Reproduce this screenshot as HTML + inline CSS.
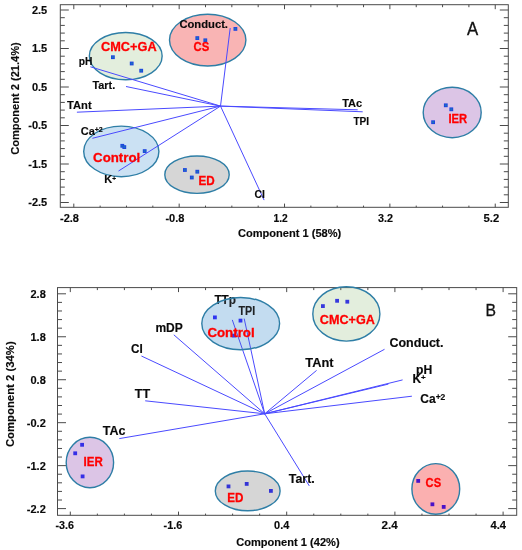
<!DOCTYPE html>
<html><head><meta charset="utf-8"><title>PCA biplots</title>
<style>
html,body{margin:0;padding:0;background:#fff;}
svg{display:block}
text{font-family:"Liberation Sans",Arial,sans-serif;}
.b{font-weight:bold;fill:#0a0a0a;stroke:#0a0a0a;stroke-width:0.15px}
.r{font-weight:bold;fill:#ff0000;stroke:#ff0000;stroke-width:0.3px}
.n{font-weight:normal;fill:#111;stroke:#111;stroke-width:0.3px}
</style></head><body>
<svg width="522" height="550" viewBox="0 0 522 550">
<defs><filter id="soft" x="0" y="0" width="100%" height="100%" filterUnits="userSpaceOnUse" color-interpolation-filters="sRGB"><feGaussianBlur stdDeviation="0.45"/></filter></defs>
<g filter="url(#soft)">
<rect width="522" height="550" fill="#fff"/>
<ellipse cx="125.75" cy="56.1" rx="36.4" ry="23.6" fill="#e3eedd" stroke="#2e7ea6" stroke-width="1.4"/>
<ellipse cx="207.7" cy="40.1" rx="38.2" ry="25.9" fill="#f9b4b4" stroke="#2e7ea6" stroke-width="1.4"/>
<ellipse cx="121.3" cy="151.4" rx="37.6" ry="25.3" fill="#cbe1f3" stroke="#2e7ea6" stroke-width="1.4"/>
<ellipse cx="197" cy="174.7" rx="32.2" ry="18.7" fill="#d6d6d6" stroke="#2e7ea6" stroke-width="1.4"/>
<ellipse cx="452.2" cy="112.5" rx="29" ry="25.2" fill="#dcc5e6" stroke="#2e7ea6" stroke-width="1.4"/>
<path d="M220.5 106.1L90.4 66.8M220.5 106.1L126 86.5M220.5 106.1L76.9 112.2M220.5 106.1L92.4 138.3M220.5 106.1L118.5 171M220.5 106.1L264.1 200.1M220.5 106.1L230.2 28.1M220.5 106.1L357.7 109.8M220.5 106.1L362.7 111.8" stroke="#4a4aff" stroke-width="1" fill="none"/>
<rect x="60.3" y="4.7" width="448.0" height="202.60000000000002" fill="none" stroke="#4a4a4a" stroke-width="1"/>
<path d="M73.80 4.7v4.5M73.80 207.3v-3.7M100.14 4.7v2.5M100.14 207.3v-1.7000000000000002M126.48 4.7v2.5M126.48 207.3v-1.7000000000000002M152.82 4.7v2.5M152.82 207.3v-1.7000000000000002M179.16 4.7v4.5M179.16 207.3v-3.7M205.50 4.7v2.5M205.50 207.3v-1.7000000000000002M231.84 4.7v2.5M231.84 207.3v-1.7000000000000002M258.18 4.7v2.5M258.18 207.3v-1.7000000000000002M284.52 4.7v4.5M284.52 207.3v-3.7M310.86 4.7v2.5M310.86 207.3v-1.7000000000000002M337.20 4.7v2.5M337.20 207.3v-1.7000000000000002M363.54 4.7v2.5M363.54 207.3v-1.7000000000000002M389.88 4.7v4.5M389.88 207.3v-3.7M416.22 4.7v2.5M416.22 207.3v-1.7000000000000002M442.56 4.7v2.5M442.56 207.3v-1.7000000000000002M468.90 4.7v2.5M468.90 207.3v-1.7000000000000002M495.24 4.7v4.5M495.24 207.3v-3.7M60.3 10.00h8.5M508.3 10.00h-8.5M60.3 17.70h4.5M508.3 17.70h-4.5M60.3 25.40h4.5M508.3 25.40h-4.5M60.3 33.10h4.5M508.3 33.10h-4.5M60.3 40.80h4.5M508.3 40.80h-4.5M60.3 48.50h8.5M508.3 48.50h-8.5M60.3 56.20h4.5M508.3 56.20h-4.5M60.3 63.90h4.5M508.3 63.90h-4.5M60.3 71.60h4.5M508.3 71.60h-4.5M60.3 79.30h4.5M508.3 79.30h-4.5M60.3 87.00h8.5M508.3 87.00h-8.5M60.3 94.70h4.5M508.3 94.70h-4.5M60.3 102.40h4.5M508.3 102.40h-4.5M60.3 110.10h4.5M508.3 110.10h-4.5M60.3 117.80h4.5M508.3 117.80h-4.5M60.3 125.50h8.5M508.3 125.50h-8.5M60.3 133.20h4.5M508.3 133.20h-4.5M60.3 140.90h4.5M508.3 140.90h-4.5M60.3 148.60h4.5M508.3 148.60h-4.5M60.3 156.30h4.5M508.3 156.30h-4.5M60.3 164.00h8.5M508.3 164.00h-8.5M60.3 171.70h4.5M508.3 171.70h-4.5M60.3 179.40h4.5M508.3 179.40h-4.5M60.3 187.10h4.5M508.3 187.10h-4.5M60.3 194.80h4.5M508.3 194.80h-4.5M60.3 202.50h8.5M508.3 202.50h-8.5" stroke="#4a4a4a" stroke-width="1" fill="none"/>
<rect x="111.0" y="55.3" width="3.8" height="3.8" fill="#1f45e0"/>
<rect x="112.0" y="56.3" width="1.8" height="1.8" fill="#1a78b8"/>
<rect x="129.8" y="61.6" width="3.8" height="3.8" fill="#1f45e0"/>
<rect x="130.8" y="62.6" width="1.8" height="1.8" fill="#1a78b8"/>
<rect x="139.3" y="68.8" width="3.8" height="3.8" fill="#1f45e0"/>
<rect x="140.3" y="69.8" width="1.8" height="1.8" fill="#1a78b8"/>
<rect x="195.4" y="36.2" width="3.8" height="3.8" fill="#1f45e0"/>
<rect x="196.4" y="37.2" width="1.8" height="1.8" fill="#1a78b8"/>
<rect x="203.4" y="38.4" width="3.8" height="3.8" fill="#1f45e0"/>
<rect x="204.4" y="39.4" width="1.8" height="1.8" fill="#1a78b8"/>
<rect x="233.5" y="27.0" width="3.8" height="3.8" fill="#1f45e0"/>
<rect x="234.5" y="28.0" width="1.8" height="1.8" fill="#1a78b8"/>
<rect x="120.4" y="143.9" width="3.8" height="3.8" fill="#1f45e0"/>
<rect x="121.4" y="144.9" width="1.8" height="1.8" fill="#1a78b8"/>
<rect x="122.4" y="145.2" width="3.8" height="3.8" fill="#1f45e0"/>
<rect x="123.4" y="146.2" width="1.8" height="1.8" fill="#1a78b8"/>
<rect x="142.8" y="149.2" width="3.8" height="3.8" fill="#1f45e0"/>
<rect x="143.8" y="150.2" width="1.8" height="1.8" fill="#1a78b8"/>
<rect x="183.0" y="168.1" width="3.8" height="3.8" fill="#1f45e0"/>
<rect x="184.0" y="169.1" width="1.8" height="1.8" fill="#1a78b8"/>
<rect x="195.4" y="169.8" width="3.8" height="3.8" fill="#1f45e0"/>
<rect x="196.4" y="170.8" width="1.8" height="1.8" fill="#1a78b8"/>
<rect x="189.9" y="175.6" width="3.8" height="3.8" fill="#1f45e0"/>
<rect x="190.9" y="176.6" width="1.8" height="1.8" fill="#1a78b8"/>
<rect x="443.9" y="103.4" width="3.8" height="3.8" fill="#1f45e0"/>
<rect x="444.9" y="104.4" width="1.8" height="1.8" fill="#1a78b8"/>
<rect x="449.4" y="107.4" width="3.8" height="3.8" fill="#1f45e0"/>
<rect x="450.4" y="108.4" width="1.8" height="1.8" fill="#1a78b8"/>
<rect x="431.2" y="120.3" width="3.8" height="3.8" fill="#1f45e0"/>
<rect x="432.2" y="121.3" width="1.8" height="1.8" fill="#1a78b8"/>
<text class="r" x="101.0" y="51.1" font-size="13.1" textLength="55.6" lengthAdjust="spacingAndGlyphs">CMC+GA</text>
<text class="r" x="193.6" y="51.1" font-size="13.1" textLength="15.7" lengthAdjust="spacingAndGlyphs">CS</text>
<text class="r" x="93.1" y="162.3" font-size="13.1" textLength="47.1" lengthAdjust="spacingAndGlyphs">Control</text>
<text class="r" x="198.6" y="184.7" font-size="13.1" textLength="16.2" lengthAdjust="spacingAndGlyphs">ED</text>
<text class="r" x="448.5" y="122.7" font-size="13.1" textLength="18.7" lengthAdjust="spacingAndGlyphs">IER</text>
<text class="b" x="78.7" y="64.8" font-size="11" textLength="13.7" lengthAdjust="spacingAndGlyphs">pH</text>
<text class="b" x="92.4" y="88.5" font-size="11" textLength="22.9" lengthAdjust="spacingAndGlyphs">Tart.</text>
<text class="b" x="67.0" y="109.2" font-size="11" textLength="24.6" lengthAdjust="spacingAndGlyphs">TAnt</text>
<text class="b" x="80.7" y="135" font-size="11">Ca<tspan font-size="7" dy="-3">+2</tspan></text>
<text class="b" x="104.3" y="182.7" font-size="11">K<tspan font-size="6.5" dy="-2">+</tspan></text>
<text class="b" x="254.6" y="197.6" font-size="11" textLength="10.4" lengthAdjust="spacingAndGlyphs">CI</text>
<text class="b" x="179.4" y="28.1" font-size="11" textLength="48.6" lengthAdjust="spacingAndGlyphs">Conduct.</text>
<text class="b" x="342.2" y="106.8" font-size="11" textLength="20.0" lengthAdjust="spacingAndGlyphs">TAc</text>
<text class="b" x="353.4" y="124.7" font-size="11" textLength="15.7" lengthAdjust="spacingAndGlyphs">TPI</text>
<text class="b" x="60.0" y="221.8" font-size="11" textLength="19.0" lengthAdjust="spacingAndGlyphs">-2.8</text>
<text class="b" x="165.4" y="221.8" font-size="11" textLength="19.0" lengthAdjust="spacingAndGlyphs">-0.8</text>
<text class="b" x="273.6" y="221.8" font-size="11" textLength="14.2" lengthAdjust="spacingAndGlyphs">1.2</text>
<text class="b" x="378.1" y="221.8" font-size="11" textLength="15.0" lengthAdjust="spacingAndGlyphs">3.2</text>
<text class="b" x="483.5" y="221.8" font-size="11" textLength="15.7" lengthAdjust="spacingAndGlyphs">5.2</text>
<text class="b" x="47.2" y="13.9" font-size="11" text-anchor="end">2.5</text>
<text class="b" x="47.2" y="52.4" font-size="11" text-anchor="end">1.5</text>
<text class="b" x="47.2" y="90.9" font-size="11" text-anchor="end">0.5</text>
<text class="b" x="47.2" y="129.4" font-size="11" text-anchor="end">-0.5</text>
<text class="b" x="47.2" y="167.9" font-size="11" text-anchor="end">-1.5</text>
<text class="b" x="47.2" y="206.4" font-size="11" text-anchor="end">-2.5</text>
<text class="b" x="238.0" y="236.6" font-size="11" textLength="103.3" lengthAdjust="spacingAndGlyphs">Component 1 (58%)</text>
<text class="b" font-size="11" transform="translate(18.5,154.7) rotate(-90)" textLength="112.4" lengthAdjust="spacingAndGlyphs">Component 2 (21.4%)</text>
<text class="n" x="466.9" y="34.5" font-size="17.6" textLength="11.2" lengthAdjust="spacingAndGlyphs">A</text>
<text class="b" x="214.4" y="304.4" font-size="12" textLength="21.6" lengthAdjust="spacingAndGlyphs">TTp</text>
<text class="b" x="238.5" y="314.9" font-size="12" textLength="16.7" lengthAdjust="spacingAndGlyphs">TPI</text>
<path d="M264.7 413.8L173.8 334.8M264.7 413.8L141.4 356M264.7 413.8L145.2 400.8M264.7 413.8L119.3 438.6M264.7 413.8L232.3 319.9M264.7 413.8L244.2 318.6M264.7 413.8L316.6 370.4M264.7 413.8L384.5 349.3M264.7 413.8L402.6 379.9M264.7 413.8L388.4 384.1M264.7 413.8L411.9 396.2M264.7 413.8L309.3 485.9" stroke="#4a4aff" stroke-width="1" fill="none"/>
<rect x="213.0" y="315.5" width="3.8" height="3.8" fill="#2222ff"/>
<rect x="238.6" y="318.7" width="3.8" height="3.8" fill="#2222ff"/>
<rect x="232.1" y="333.7" width="3.8" height="3.8" fill="#2222ff"/>
<rect x="80.2" y="442.9" width="3.8" height="3.8" fill="#2222ff"/>
<rect x="73.3" y="451.4" width="3.8" height="3.8" fill="#2222ff"/>
<rect x="80.7" y="474.5" width="3.8" height="3.8" fill="#2222ff"/>
<rect x="226.6" y="484.5" width="3.8" height="3.8" fill="#2222ff"/>
<rect x="244.8" y="482.0" width="3.8" height="3.8" fill="#2222ff"/>
<rect x="269.0" y="489.0" width="3.8" height="3.8" fill="#2222ff"/>
<rect x="321.0" y="304.2" width="3.8" height="3.8" fill="#2222ff"/>
<rect x="335.2" y="298.9" width="3.8" height="3.8" fill="#2222ff"/>
<rect x="345.4" y="299.8" width="3.8" height="3.8" fill="#2222ff"/>
<rect x="57.5" y="287.6" width="459.20000000000005" height="227.69999999999993" fill="none" stroke="#4a4a4a" stroke-width="1"/>
<path d="M70.30 287.6v4.5M70.30 515.3v-3.7M97.35 287.6v2.5M97.35 515.3v-1.7000000000000002M124.40 287.6v2.5M124.40 515.3v-1.7000000000000002M151.45 287.6v2.5M151.45 515.3v-1.7000000000000002M178.50 287.6v4.5M178.50 515.3v-3.7M205.55 287.6v2.5M205.55 515.3v-1.7000000000000002M232.60 287.6v2.5M232.60 515.3v-1.7000000000000002M259.65 287.6v2.5M259.65 515.3v-1.7000000000000002M286.70 287.6v4.5M286.70 515.3v-3.7M313.75 287.6v2.5M313.75 515.3v-1.7000000000000002M340.80 287.6v2.5M340.80 515.3v-1.7000000000000002M367.85 287.6v2.5M367.85 515.3v-1.7000000000000002M394.90 287.6v4.5M394.90 515.3v-3.7M421.95 287.6v2.5M421.95 515.3v-1.7000000000000002M449.00 287.6v2.5M449.00 515.3v-1.7000000000000002M476.05 287.6v2.5M476.05 515.3v-1.7000000000000002M503.10 287.6v4.5M503.10 515.3v-3.7M57.5 293.80h8.5M516.7 293.80h-8.5M57.5 302.39h4.5M516.7 302.39h-4.5M57.5 310.98h4.5M516.7 310.98h-4.5M57.5 319.58h4.5M516.7 319.58h-4.5M57.5 328.17h4.5M516.7 328.17h-4.5M57.5 336.76h8.5M516.7 336.76h-8.5M57.5 345.35h4.5M516.7 345.35h-4.5M57.5 353.94h4.5M516.7 353.94h-4.5M57.5 362.54h4.5M516.7 362.54h-4.5M57.5 371.13h4.5M516.7 371.13h-4.5M57.5 379.72h8.5M516.7 379.72h-8.5M57.5 388.31h4.5M516.7 388.31h-4.5M57.5 396.90h4.5M516.7 396.90h-4.5M57.5 405.50h4.5M516.7 405.50h-4.5M57.5 414.09h4.5M516.7 414.09h-4.5M57.5 422.68h8.5M516.7 422.68h-8.5M57.5 431.27h4.5M516.7 431.27h-4.5M57.5 439.86h4.5M516.7 439.86h-4.5M57.5 448.46h4.5M516.7 448.46h-4.5M57.5 457.05h4.5M516.7 457.05h-4.5M57.5 465.64h8.5M516.7 465.64h-8.5M57.5 474.23h4.5M516.7 474.23h-4.5M57.5 482.82h4.5M516.7 482.82h-4.5M57.5 491.42h4.5M516.7 491.42h-4.5M57.5 500.01h4.5M516.7 500.01h-4.5M57.5 508.60h8.5M516.7 508.60h-8.5" stroke="#4a4a4a" stroke-width="1" fill="none"/>
<ellipse cx="240.7" cy="323.6" rx="38.9" ry="26.1" fill="#c3dcf1" style="mix-blend-mode:multiply"/>
<ellipse cx="240.7" cy="323.6" rx="38.9" ry="26.1" fill="#c3dcf1" fill-opacity="0.12" stroke="#2e7ea6" stroke-width="1.4"/>
<ellipse cx="346.35" cy="313.9" rx="33.55" ry="27.2" fill="#e3eedd" style="mix-blend-mode:multiply"/>
<ellipse cx="346.35" cy="313.9" rx="33.55" ry="27.2" fill="#e3eedd" fill-opacity="0.12" stroke="#2e7ea6" stroke-width="1.4"/>
<ellipse cx="89.9" cy="462.5" rx="23.7" ry="25.2" fill="#dcc5e6" style="mix-blend-mode:multiply"/>
<ellipse cx="89.9" cy="462.5" rx="23.7" ry="25.2" fill="#dcc5e6" fill-opacity="0.12" stroke="#2e7ea6" stroke-width="1.4"/>
<ellipse cx="247.7" cy="490.9" rx="32.4" ry="19.9" fill="#d6d6d6" style="mix-blend-mode:multiply"/>
<ellipse cx="247.7" cy="490.9" rx="32.4" ry="19.9" fill="#d6d6d6" fill-opacity="0.12" stroke="#2e7ea6" stroke-width="1.4"/>
<ellipse cx="435.8" cy="488.9" rx="23.9" ry="25.3" fill="#fbb0b0" style="mix-blend-mode:multiply"/>
<ellipse cx="435.8" cy="488.9" rx="23.9" ry="25.3" fill="#fbb0b0" fill-opacity="0.25" stroke="#2e7ea6" stroke-width="1.4"/>
<rect x="416.3" y="479.0" width="3.8" height="3.8" fill="#4a12c8"/>
<rect x="430.5" y="502.4" width="3.8" height="3.8" fill="#4a12c8"/>
<rect x="441.8" y="505.0" width="3.8" height="3.8" fill="#4a12c8"/>
<text class="r" x="207.4" y="336.8" font-size="13.3" textLength="47.3" lengthAdjust="spacingAndGlyphs">Control</text>
<text class="r" x="319.8" y="323.8" font-size="13.3" textLength="55.0" lengthAdjust="spacingAndGlyphs">CMC+GA</text>
<text class="r" x="83.6" y="466.0" font-size="13.3" textLength="19.2" lengthAdjust="spacingAndGlyphs">IER</text>
<text class="r" x="227.3" y="502.1" font-size="13.3" textLength="16.2" lengthAdjust="spacingAndGlyphs">ED</text>
<text class="r" x="425.6" y="487.2" font-size="13.3" textLength="15.5" lengthAdjust="spacingAndGlyphs">CS</text>
<text class="b" x="155.4" y="332.3" font-size="12" textLength="27.4" lengthAdjust="spacingAndGlyphs">mDP</text>
<text class="b" x="131.0" y="352.7" font-size="12" textLength="11.7" lengthAdjust="spacingAndGlyphs">CI</text>
<text class="b" x="134.7" y="397.6" font-size="12" textLength="15.4" lengthAdjust="spacingAndGlyphs">TT</text>
<text class="b" x="102.8" y="435.3" font-size="12" textLength="22.7" lengthAdjust="spacingAndGlyphs">TAc</text>
<text class="b" x="305.3" y="367.2" font-size="12" textLength="28.2" lengthAdjust="spacingAndGlyphs">TAnt</text>
<text class="b" x="389.4" y="347.3" font-size="12" textLength="54.1" lengthAdjust="spacingAndGlyphs">Conduct.</text>
<text class="b" x="416.1" y="373.5" font-size="12" textLength="16.2" lengthAdjust="spacingAndGlyphs">pH</text>
<text class="b" x="412.4" y="383" font-size="12">K<tspan font-size="8" dy="-3">+</tspan></text>
<text class="b" x="420.3" y="403.4" font-size="12">Ca<tspan font-size="8.5" dy="-3.5">+2</tspan></text>
<text class="b" x="288.7" y="482.9" font-size="12" textLength="26.1" lengthAdjust="spacingAndGlyphs">Tart.</text>
<text class="b" x="55.5" y="529.2" font-size="11" textLength="18.5" lengthAdjust="spacingAndGlyphs">-3.6</text>
<text class="b" x="163.6" y="529.2" font-size="11" textLength="18.7" lengthAdjust="spacingAndGlyphs">-1.6</text>
<text class="b" x="274.1" y="529.2" font-size="11" textLength="15.2" lengthAdjust="spacingAndGlyphs">0.4</text>
<text class="b" x="381.6" y="529.2" font-size="11" textLength="16.2" lengthAdjust="spacingAndGlyphs">2.4</text>
<text class="b" x="490.4" y="529.2" font-size="11" textLength="15.6" lengthAdjust="spacingAndGlyphs">4.4</text>
<text class="b" x="45.8" y="297.7" font-size="11" text-anchor="end">2.8</text>
<text class="b" x="45.8" y="340.7" font-size="11" text-anchor="end">1.8</text>
<text class="b" x="45.8" y="383.6" font-size="11" text-anchor="end">0.8</text>
<text class="b" x="45.8" y="426.6" font-size="11" text-anchor="end">-0.2</text>
<text class="b" x="45.8" y="469.5" font-size="11" text-anchor="end">-1.2</text>
<text class="b" x="45.8" y="512.5" font-size="11" text-anchor="end">-2.2</text>
<text class="b" x="236.2" y="545.6" font-size="11" textLength="103.4" lengthAdjust="spacingAndGlyphs">Component 1 (42%)</text>
<text class="b" font-size="11.3" transform="translate(14.4,447.1) rotate(-90)" textLength="105.8" lengthAdjust="spacingAndGlyphs">Component 2 (34%)</text>
<text class="n" x="485.5" y="315.9" font-size="16.6" textLength="10.5" lengthAdjust="spacingAndGlyphs">B</text>
</g></svg></body></html>
